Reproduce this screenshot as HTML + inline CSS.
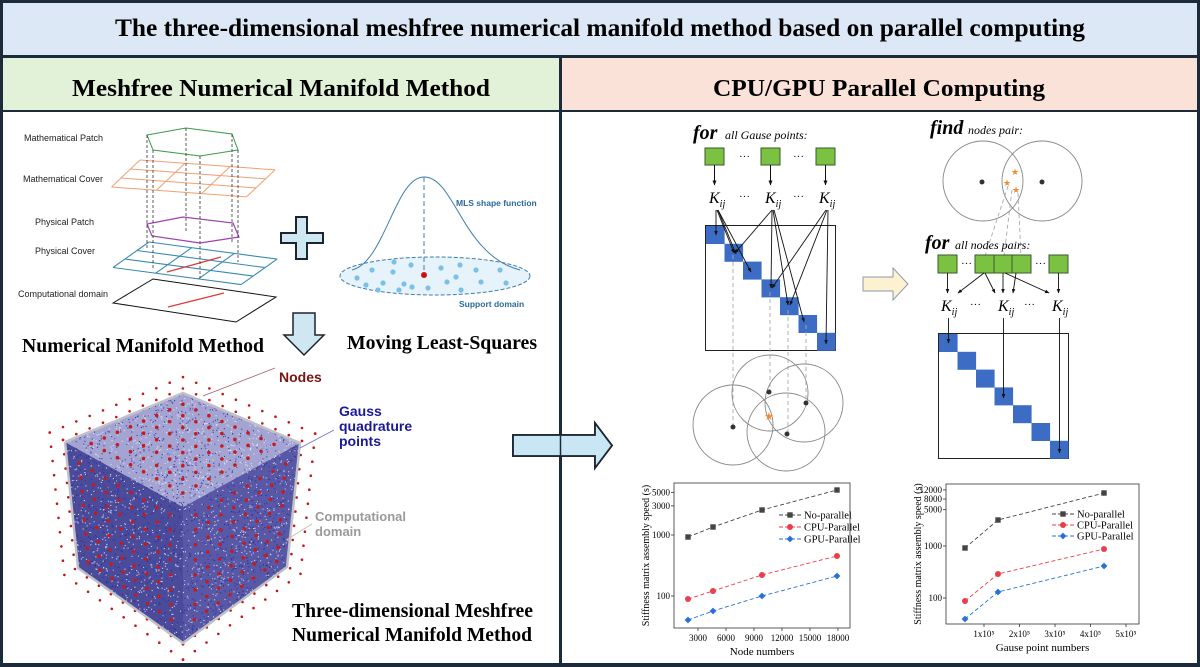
<!DOCTYPE html>
<html><head><meta charset="utf-8"><style>
html,body{margin:0;padding:0;background:#fff}
svg{display:block}
.s{font-family:"Liberation Serif",serif}
.a{font-family:"Liberation Sans",sans-serif}
</style></head><body>
<svg id="svg" width="1200" height="667" viewBox="0 0 1200 667" xmlns="http://www.w3.org/2000/svg">
<defs>
<marker id="ar" viewBox="0 0 10 10" refX="9" refY="5" markerWidth="5" markerHeight="5" orient="auto"><path d="M0,1 L10,5 L0,9 z" fill="#111"/></marker>
</defs>
<rect x="0" y="0" width="1200" height="667" fill="#1c2b39"/>
<rect x="3" y="3" width="1194" height="52" fill="#dce8f5"/>
<rect x="3" y="58" width="556" height="52" fill="#e1f2d9"/>
<rect x="562" y="58" width="635" height="52" fill="#fbe2d8"/>
<rect x="3" y="112" width="556" height="551" fill="#fff"/>
<rect x="562" y="112" width="635" height="551" fill="#fff"/>
<text class="s" x="115" y="36" font-size="25" font-weight="bold" textLength="970" lengthAdjust="spacingAndGlyphs">The three-dimensional meshfree numerical manifold method based on parallel computing</text>
<text class="s" x="72" y="96" font-size="24" font-weight="bold" textLength="418" lengthAdjust="spacingAndGlyphs">Meshfree Numerical Manifold Method</text>
<text class="s" x="713" y="96" font-size="24" font-weight="bold" textLength="332" lengthAdjust="spacingAndGlyphs">CPU/GPU Parallel Computing</text>

<!-- left layered diagram -->
<g class="a" font-size="9" fill="#222">
<text x="24" y="141">Mathematical Patch</text>
<text x="23" y="182">Mathematical Cover</text>
<text x="35" y="225">Physical Patch</text>
<text x="35" y="254">Physical Cover</text>
<text x="18" y="297">Computational domain</text>
</g>
<g id="layers" fill="none"></g>
<polygon points="147,135 186,128 232,134 238,150 200,156 153,150" fill="none" stroke="#3a9a4a" stroke-width="1"/>
<polygon points="147,224 183,217 233,223 239,237 200,243 152,236" fill="none" stroke="#a040b0" stroke-width="1.2"/>
<polygon points="113,303 153,279 276,297 236,322" fill="none" stroke="#111" stroke-width="1"/>
<line x1="168" y1="307" x2="224" y2="293" stroke="#e03a3a" stroke-width="1.2"/>
<line x1="167" y1="272" x2="221" y2="257" stroke="#e03a3a" stroke-width="1.2"/>
<g stroke="#333" stroke-width="0.8" stroke-dasharray="3,2">
<line x1="147" y1="135" x2="147" y2="250"/><line x1="153" y1="150" x2="153" y2="270"/>
<line x1="186" y1="128" x2="186" y2="232"/><line x1="200" y1="156" x2="200" y2="278"/>
<line x1="232" y1="134" x2="232" y2="242"/><line x1="238" y1="150" x2="238" y2="262"/>
</g>

<!-- plus -->
<path d="M296,217 h11 v16 h16 v10 h-16 v16 h-11 v-16 h-15 v-10 h15 z" fill="#cfe6f3" stroke="#1b2530" stroke-width="2"/>

<!-- Gaussian -->
<ellipse cx="435" cy="276" rx="95" ry="19" fill="#e6f3fb" stroke="#3d7fa8" stroke-width="1" stroke-dasharray="4,2"/>
<path d="M352,270 C385,262 395,177 424,177 C455,177 462,255 520,270" fill="none" stroke="#3d7fa8" stroke-width="1"/>
<line x1="424" y1="177" x2="424" y2="274" stroke="#3d7fa8" stroke-dasharray="5,3"/>
<g id="mls" fill="#7cc0e8"></g>
<circle cx="424" cy="275" r="3" fill="#d01010"/>
<text class="a" x="456" y="206" font-size="8.5" font-weight="bold" fill="#2a6a98">MLS shape function</text>
<text class="a" x="459" y="307" font-size="8.5" font-weight="bold" fill="#2a6a98">Support domain</text>

<!-- down arrow -->
<path d="M293,313 h22 v22 h9 l-20,20 l-20,-20 h9 z" fill="#cfe6f3" stroke="#1b2530" stroke-width="1.5"/>
<text class="s" x="22" y="352" font-size="20" font-weight="bold" textLength="242" lengthAdjust="spacingAndGlyphs">Numerical Manifold Method</text>
<text class="s" x="347" y="349" font-size="20" font-weight="bold" textLength="190" lengthAdjust="spacingAndGlyphs">Moving Least-Squares</text>

<!-- cube -->
<g id="outer"></g>
<polygon points="65,442 183,507 183,643 78,568" fill="#4b4b9c"/>
<polygon points="183,507 300,443 287,567 183,643" fill="#5858a6"/>
<polygon points="183,393 65,442 183,507 300,443" fill="#a4a4d2"/>
<g id="gauss"></g>
<g id="inner"></g>
<g fill="none" stroke="#c0c0c8" stroke-width="2.5"><polyline points="65,442 183,393 300,443 287,567 183,643 78,568 65,442"/></g>
<line x1="203" y1="396" x2="275" y2="368" stroke="#a06070" stroke-width="0.8"/>
<text class="a" x="279" y="382" font-size="14" font-weight="bold" fill="#7a1414">Nodes</text>
<line x1="300" y1="448" x2="334" y2="430" stroke="#7070c0" stroke-width="0.8"/>
<g class="a" font-size="14" font-weight="bold" fill="#1a1a96"><text x="339" y="416">Gauss</text><text x="339" y="431">quadrature</text><text x="339" y="446">points</text></g>
<line x1="286" y1="540" x2="312" y2="524" stroke="#bbb" stroke-width="0.8"/>
<g class="a" font-size="13" font-weight="bold" fill="#9a9a9a"><text x="315" y="521">Computational</text><text x="315" y="536">domain</text></g>
<text class="s" x="292" y="617" font-size="20" font-weight="bold" textLength="241" lengthAdjust="spacingAndGlyphs">Three-dimensional Meshfree</text>
<text class="s" x="292" y="641" font-size="20" font-weight="bold" textLength="240" lengthAdjust="spacingAndGlyphs">Numerical Manifold Method</text>

<!-- big right arrow -->
<path d="M513,435 h82 v-12 l17,22.5 l-17,22.5 v-12 h-82 z" fill="#c8e6f4" stroke="#1b2530" stroke-width="1.8"/>
<line x1="560.5" y1="112" x2="560.5" y2="663" stroke="#1c2b39" stroke-width="2"/>
<path d="M513,435 h82 v-12 l17,22.5 l-17,22.5 v-12 h-82 z" fill="#c8e6f4" stroke="#1b2530" stroke-width="1.8"/>
<line x1="560.5" y1="436" x2="560.5" y2="456" stroke="#1c2b39" stroke-width="1.5"/>

<!-- GPU diagram left -->
<text class="s" x="693" y="139" font-size="20" font-weight="bold" font-style="italic">for</text>
<text class="s" x="725" y="139" font-size="12" font-style="italic">all Gause points:</text>
<g fill="#7cc242" stroke="#3a5a2a" stroke-width="1">
<rect x="705" y="148" width="19" height="17"/><rect x="761" y="148" width="19" height="17"/><rect x="816" y="148" width="19" height="17"/>
</g>
<g class="s" font-size="11"><text x="739" y="160">···</text><text x="793" y="160">···</text><text x="739" y="200">···</text><text x="793" y="200">···</text></g>
<g stroke="#111" stroke-width="1" marker-end="url(#ar)">
<line x1="714.5" y1="165" x2="714.5" y2="185"/><line x1="770.5" y1="165" x2="770.5" y2="185"/><line x1="825.5" y1="165" x2="825.5" y2="185"/>
</g>
<g class="s" font-size="16" font-style="italic"><text x="709" y="203">K<tspan font-size="10" dy="4">ij</tspan></text><text x="765" y="203">K<tspan font-size="10" dy="4">ij</tspan></text><text x="819" y="203">K<tspan font-size="10" dy="4">ij</tspan></text></g>
<rect x="705.5" y="225.5" width="130" height="125" fill="#fff" stroke="#222"/>
<g id="mat1" fill="#3d6cc4"></g>
<g stroke="#aaa" stroke-dasharray="4,3" stroke-width="0.9">
<line x1="733" y1="255" x2="733" y2="427"/><line x1="770" y1="292" x2="770" y2="392"/><line x1="788" y1="310" x2="788" y2="434"/><line x1="806" y1="325" x2="806" y2="403"/>
</g>
<g stroke="#111" stroke-width="0.9" marker-end="url(#ar)">
<line x1="716" y1="210" x2="716" y2="235"/><line x1="717" y1="210" x2="734" y2="253"/><line x1="718" y1="210" x2="751" y2="272"/><line x1="718" y1="210" x2="736" y2="254"/>
<line x1="772" y1="210" x2="735" y2="253"/><line x1="772" y1="210" x2="771" y2="288"/><line x1="773" y1="210" x2="788" y2="305"/><line x1="774" y1="210" x2="804" y2="322"/>
<line x1="826" y1="210" x2="772" y2="288"/><line x1="827" y1="210" x2="790" y2="305"/><line x1="828" y1="210" x2="826" y2="344"/>
</g>
<g fill="none" stroke="#888" stroke-width="0.9">
<circle cx="733" cy="425" r="40"/><circle cx="770" cy="393" r="38"/><circle cx="804" cy="403" r="39"/><circle cx="786" cy="432" r="39"/>
</g>
<g fill="#333"><circle cx="733" cy="427" r="2.5"/><circle cx="769" cy="392" r="2.5"/><circle cx="806" cy="403" r="2.5"/><circle cx="787" cy="434" r="2.5"/></g>
<text x="764" y="420" font-size="11" fill="#f08a30" font-family="DejaVu Sans">★</text>

<!-- yellow arrow -->
<path d="M863,277 h30 v-9 l15,16 l-15,16 v-9 h-30 z" fill="#fdf2cf" stroke="#8a9ab0" stroke-width="1"/>

<!-- right diagram -->
<text class="s" x="930" y="134" font-size="20" font-weight="bold" font-style="italic">find</text>
<text class="s" x="968" y="134" font-size="12" font-style="italic">nodes pair:</text>
<g fill="none" stroke="#888" stroke-width="0.9"><circle cx="983" cy="181" r="40"/><circle cx="1042" cy="181" r="40"/></g>
<g fill="#333"><circle cx="982" cy="182" r="2.5"/><circle cx="1042" cy="182" r="2.5"/></g>
<g font-size="9" fill="#f08a30" font-family="DejaVu Sans"><text x="1011" y="175">★</text><text x="1003" y="186">★</text><text x="1012" y="193">★</text></g>
<g stroke="#aaa" stroke-dasharray="4,3" stroke-width="0.9"><line x1="1008" y1="186" x2="985" y2="256"/><line x1="1012" y1="190" x2="1004" y2="256"/><line x1="1018" y1="193" x2="1021" y2="256"/></g>
<text class="s" x="925" y="249" font-size="20" font-weight="bold" font-style="italic">for</text>
<text class="s" x="955" y="249" font-size="12" font-style="italic">all nodes pairs:</text>
<g fill="#7cc242" stroke="#3a5a2a" stroke-width="1">
<rect x="938" y="255" width="19" height="18"/><rect x="975" y="255" width="19" height="18"/><rect x="994" y="255" width="18" height="18"/><rect x="1012" y="255" width="19" height="18"/><rect x="1049" y="255" width="19" height="18"/>
</g>
<g class="s" font-size="11"><text x="961" y="267">···</text><text x="1035" y="267">···</text><text x="970" y="308">···</text><text x="1024" y="308">···</text></g>
<g stroke="#111" stroke-width="0.9" marker-end="url(#ar)">
<line x1="947.5" y1="273" x2="947.5" y2="293"/><line x1="984" y1="273" x2="958" y2="293"/><line x1="985" y1="273" x2="995" y2="293"/><line x1="1003" y1="273" x2="1003" y2="293"/><line x1="1016" y1="273" x2="1013" y2="293"/><line x1="1005" y1="273" x2="1049" y2="293"/><line x1="1058.5" y1="273" x2="1058.5" y2="293"/>
</g>
<g class="s" font-size="16" font-style="italic"><text x="941" y="311">K<tspan font-size="10" dy="4">ij</tspan></text><text x="998" y="311">K<tspan font-size="10" dy="4">ij</tspan></text><text x="1052" y="311">K<tspan font-size="10" dy="4">ij</tspan></text></g>
<rect x="938.5" y="333.5" width="130" height="125" fill="#fff" stroke="#222"/>
<g id="mat2" fill="#3d6cc4"></g>
<g stroke="#111" stroke-width="0.9" marker-end="url(#ar)">
<line x1="948.5" y1="318" x2="948.5" y2="343"/><line x1="1003.5" y1="318" x2="1003.5" y2="398"/><line x1="1059.5" y1="318" x2="1059.5" y2="453"/>
</g>

<!-- charts -->
<g id="charts" class="s"></g>
</svg>
<script>
var NS="http://www.w3.org/2000/svg";
function el(p,t,a,txt){var e=document.createElementNS(NS,t);for(var k in a)e.setAttribute(k,a[k]);if(txt!==undefined)e.textContent=txt;document.getElementById(p).appendChild(e);return e;}
var seed=7;function rnd(){seed=(seed*16807)%2147483647;return seed/2147483647;}
// layers grids
function grid(A,u,v,nu,nv,col,w){for(var i=0;i<=nu;i++){el("layers","line",{x1:A[0]+u[0]*i,y1:A[1]+u[1]*i,x2:A[0]+u[0]*i+v[0]*nv,y2:A[1]+u[1]*i+v[1]*nv,stroke:col,"stroke-width":w});}
for(var j=0;j<=nv;j++){el("layers","line",{x1:A[0]+v[0]*j,y1:A[1]+v[1]*j,x2:A[0]+v[0]*j+u[0]*nu,y2:A[1]+v[1]*j+u[1]*nu,stroke:col,"stroke-width":w});}}
grid([140,160],[45,3.3],[-9.5,9],3,3,"#f2a070",1);
grid([149,242],[42.7,5.7],[-12,8.5],3,3,"#3a8ab0",1.1);
// MLS dots
var md=[[357,278],[372,270],[383,283],[393,272],[404,284],[378,290],[399,290],[412,287],[411,265],[441,268],[447,282],[456,277],[461,290],[476,270],[481,282],[500,270],[506,283],[366,285],[394,262],[460,265],[428,288]];
md.forEach(function(p){el("mls","circle",{cx:p[0],cy:p[1],r:2.6});});
// cube
var T=[183,393],L=[65,442],R=[300,443],C=[183,507],B=[183,643],LB=[78,568],RB=[287,567];
function bil(P0,P1,P2,P3,s,t){return [P0[0]*(1-s)*(1-t)+P1[0]*s*(1-t)+P2[0]*s*t+P3[0]*(1-s)*t,P0[1]*(1-s)*(1-t)+P1[1]*s*(1-t)+P2[1]*s*t+P3[1]*(1-s)*t];}
var faces=[[T,R,C,L],[L,C,B,LB],[C,R,RB,B]];
var cen=[183,515];
function exp(P,f){return [cen[0]+(P[0]-cen[0])*f,cen[1]+(P[1]-cen[1])*f];}
faces.forEach(function(F){var G=F.map(function(P){return exp(P,1.13);});
 for(var i=0;i<=10;i++)for(var j=0;j<=10;j++){var p=bil(G[0],G[1],G[2],G[3],i/10,j/10);el("outer","circle",{cx:p[0].toFixed(1),cy:p[1].toFixed(1),r:1.3,fill:"#c01818"});}});
var gcol=["#2a2a90","#d8d8e0","#3434a0","#c8c8d8"];
faces.forEach(function(F,fi){for(var k=0;k<900;k++){var p=bil(F[0],F[1],F[2],F[3],rnd(),rnd());el("gauss","rect",{x:p[0].toFixed(1),y:p[1].toFixed(1),width:1.1,height:1.1,fill:fi==0?(k%2?"#3a3aa8":"#e0e0ee"):gcol[k%4]});}});
faces.forEach(function(F){for(var i=1;i<9;i++)for(var j=1;j<9;j++){var p=bil(F[0],F[1],F[2],F[3],i/9,j/9);el("inner","circle",{cx:p[0].toFixed(1),cy:p[1].toFixed(1),r:1.8,fill:"#c41c1c"});}});
// matrices
for(var i=0;i<7;i++){el("mat1","rect",{x:706+i*18.5,y:226+i*17.8,width:18.6,height:18});el("mat2","rect",{x:939+i*18.5,y:334+i*17.8,width:18.6,height:18});}
// charts
function chart(o){var g="charts";
 el(g,"rect",{x:o.x0,y:o.y0,width:o.x1-o.x0,height:o.y1-o.y0,fill:"none",stroke:"#333","stroke-width":0.8});
 o.yt.forEach(function(t){var y=o.Y(t[0]);el(g,"line",{x1:o.x0,y1:y,x2:o.x0-3,y2:y,stroke:"#333","stroke-width":0.8});el(g,"text",{x:o.x0-4,y:y+3,"font-size":9,"text-anchor":"end"},t[1]);});
 o.xt.forEach(function(t){var x=o.X(t[0]);el(g,"line",{x1:x,y1:o.y1,x2:x,y2:o.y1+3,stroke:"#333","stroke-width":0.8});el(g,"text",{x:x,y:o.y1+13,"font-size":9,"text-anchor":"middle"},t[1]);});
 el(g,"text",{x:(o.x0+o.x1)/2,y:o.y1+27,"font-size":11,"text-anchor":"middle"},o.xl);
 el(g,"text",{x:0,y:0,"font-size":10,"text-anchor":"middle",transform:"translate("+(o.x0-25)+","+((o.y0+o.y1)/2)+") rotate(-90)"},"Stiffness matrix assembly speed (s)");
 var cols=["#444","#e8404a","#2a70d8"],names=["No-parallel","CPU-Parallel","GPU-Parallel"];
 o.series.forEach(function(s,si){var pts=s.map(function(p){return p[0]+","+p[1];}).join(" ");
  el(g,"polyline",{points:pts,fill:"none",stroke:cols[si],"stroke-width":0.9,"stroke-dasharray":"4,2.5"});
  s.forEach(function(p){mk(p[0],p[1],si,cols[si]);});
  var ly=o.ly+si*o.ld;el(g,"line",{x1:o.lx-11,y1:ly,x2:o.lx+11,y2:ly,stroke:cols[si],"stroke-width":0.9,"stroke-dasharray":"4,2"});mk(o.lx,ly,si,cols[si]);
  el(g,"text",{x:o.lx+14,y:ly+3.5,"font-size":10.5},names[si]);});
 function mk(x,y,si,c){if(si==0)el(g,"rect",{x:x-2.7,y:y-2.7,width:5.4,height:5.4,fill:c});else if(si==1)el(g,"circle",{cx:x,cy:y,r:3,fill:c});else el(g,"polygon",{points:(x)+","+(y-3.4)+" "+(x+3.4)+","+y+" "+x+","+(y+3.4)+" "+(x-3.4)+","+y,fill:c});}
}
var Y1=function(v){return 596-61*Math.log10(v/100);},X1=function(v){return 698+(v-3000)*0.00933;};
chart({x0:674,x1:850,y0:483,y1:628,Y:Y1,X:X1,yt:[[100,"100"],[1000,"1000"],[3000,"3000"],[5000,"5000"]],xt:[[3000,"3000"],[6000,"6000"],[9000,"9000"],[12000,"12000"],[15000,"15000"],[18000,"18000"]],xl:"Node numbers",
 series:[[[688,537],[713,527],[762,510],[837,490]],[[688,599],[713,591],[762,575],[837,556]],[[688,620],[713,611],[762,596],[837,576]]],lx:790,ly:515,ld:12});
var Y2=function(v){return 598-52*Math.log10(v/100);},X2=function(v){return 984+(v-1)*35.5;};
chart({x0:946,x1:1139,y0:484,y1:624,Y:Y2,X:X2,yt:[[100,"100"],[1000,"1000"],[5000,"5000"],[8000,"8000"],[12000,"12000"]],xt:[[1,"1x10⁵"],[2,"2x10⁵"],[3,"3x10⁵"],[4,"4x10⁵"],[5,"5x10⁵"]],xl:"Gause point numbers",
 series:[[[965,548],[998,520],[1104,493]],[[965,601],[998,574],[1104,549]],[[965,619],[998,592],[1104,566]]],lx:1063,ly:514,ld:11});
</script>
</body></html>
